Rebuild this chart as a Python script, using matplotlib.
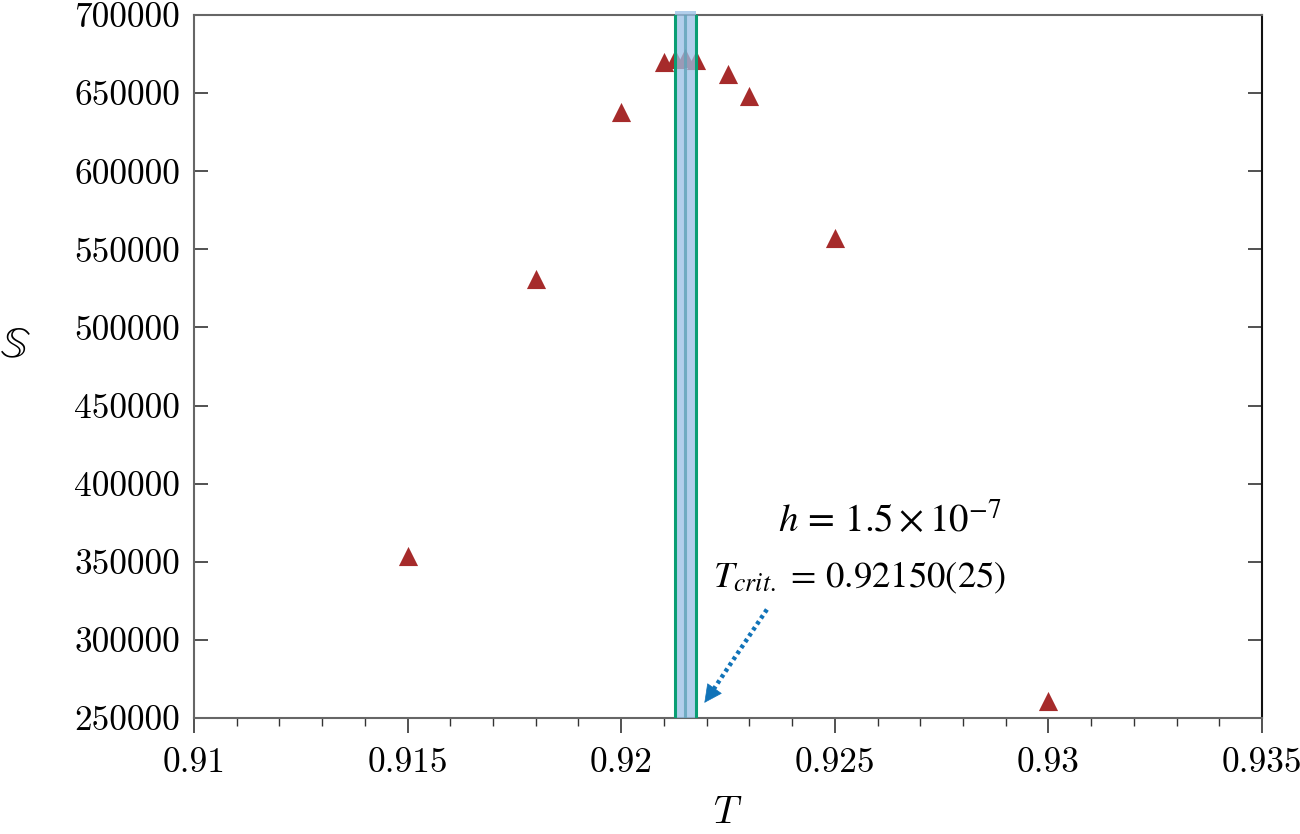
import matplotlib
matplotlib.use('Agg')
import matplotlib.pyplot as plt
from matplotlib.ticker import MultipleLocator
import numpy as np

plt.rcParams['font.family'] = 'cmr10'
plt.rcParams['mathtext.fontset'] = 'cm'
plt.rcParams['axes.unicode_minus'] = False

# measured points
temps = [0.915, 0.918, 0.920, 0.921, 0.92125, 0.9215, 0.92175, 0.9225, 0.923, 0.925, 0.930]
susc = [354000, 531000, 638000, 670000, 672000, 672500, 671000, 662000, 648000, 557000, 261000]

t_crit = 0.9215
t_err = 0.00025

x_ticks = [0.91, 0.915, 0.92, 0.925, 0.93, 0.935]
x_labels = ['0.91', '0.915', '0.92', '0.925', '0.93', '0.935']
y_ticks = np.arange(250000, 700001, 50000)

fig = plt.figure(figsize=(13, 8.34), dpi=100)
ax = fig.add_axes([0.1492, 0.139, 0.8216, 0.843])

ax.scatter(temps, susc, marker='^', s=190, color='#a62b2b', zorder=3, linewidths=0)

# critical temperature band
ax.axvspan(t_crit - t_err, t_crit + t_err, ymin=0, ymax=1.005, color='#98c0e6',
           alpha=0.75, zorder=4, lw=0, clip_on=False)
ax.axvline(t_crit - t_err, color='#0a9e74', lw=2.2, zorder=5)
ax.axvline(t_crit + t_err, color='#0a9e74', lw=2.2, zorder=5)
ax.axvline(t_crit, color='#5fa3b8', lw=2.2, alpha=0.8, zorder=5)

ax.set_xlim(0.91, 0.935)
ax.set_ylim(250000, 700000)
ax.set_xticks(x_ticks)
ax.set_xticklabels(x_labels)
ax.xaxis.set_minor_locator(MultipleLocator(0.001))
ax.set_yticks(y_ticks)
ax.set_yticklabels([str(v) for v in y_ticks])

ax.tick_params(axis='x', which='major', direction='out', length=11, width=1.2,
               labelsize=25.5, pad=10, color='#333333')
ax.tick_params(axis='x', which='minor', direction='out', length=6, width=1.0, color='#333333')
ax.tick_params(axis='y', which='major', direction='in', length=10, width=1.2,
               left=True, right=True, labelsize=25.5, pad=10, color='#333333')

for side in ['left', 'bottom', 'top']:
    ax.spines[side].set_color('#666666')
    ax.spines[side].set_linewidth(1.5)
ax.spines['right'].set_color('#111111')
ax.spines['right'].set_linewidth(1.5)

ax.set_xlabel(r'$T$', fontsize=28, labelpad=12)
ax.set_ylabel(r'$\mathbb{S}$', fontsize=32, rotation=0)
ax.yaxis.set_label_coords(-0.168, 0.5)

ax.text(0.92629, 376000, r'$h\,=\,1.5\times10^{-7}$', fontsize=28, ha='center',
        va='center', math_fontfamily='stix')
ax.text(0.92558, 339500, r'$T_{crit.}\,=\,\mathrm{0.92150(25)}$', fontsize=26.5,
        ha='center', va='center', math_fontfamily='stix')

# dotted pointer with a solid head
arrow_from = (0.92341, 319500)
arrow_to = (0.92191, 258300)
ax.plot([arrow_from[0], 0.92203], [arrow_from[1], 263000], linestyle=(0, (0.8, 0.8)),
        lw=3.2, color='#1173b8', zorder=6)
ax.annotate('', xy=arrow_to, xytext=(0.92207, 264500),
            arrowprops=dict(arrowstyle='-|>', lw=0.5, color='#1173b8',
                            mutation_scale=30), zorder=6)

fig.savefig('out.png', dpi=100)
